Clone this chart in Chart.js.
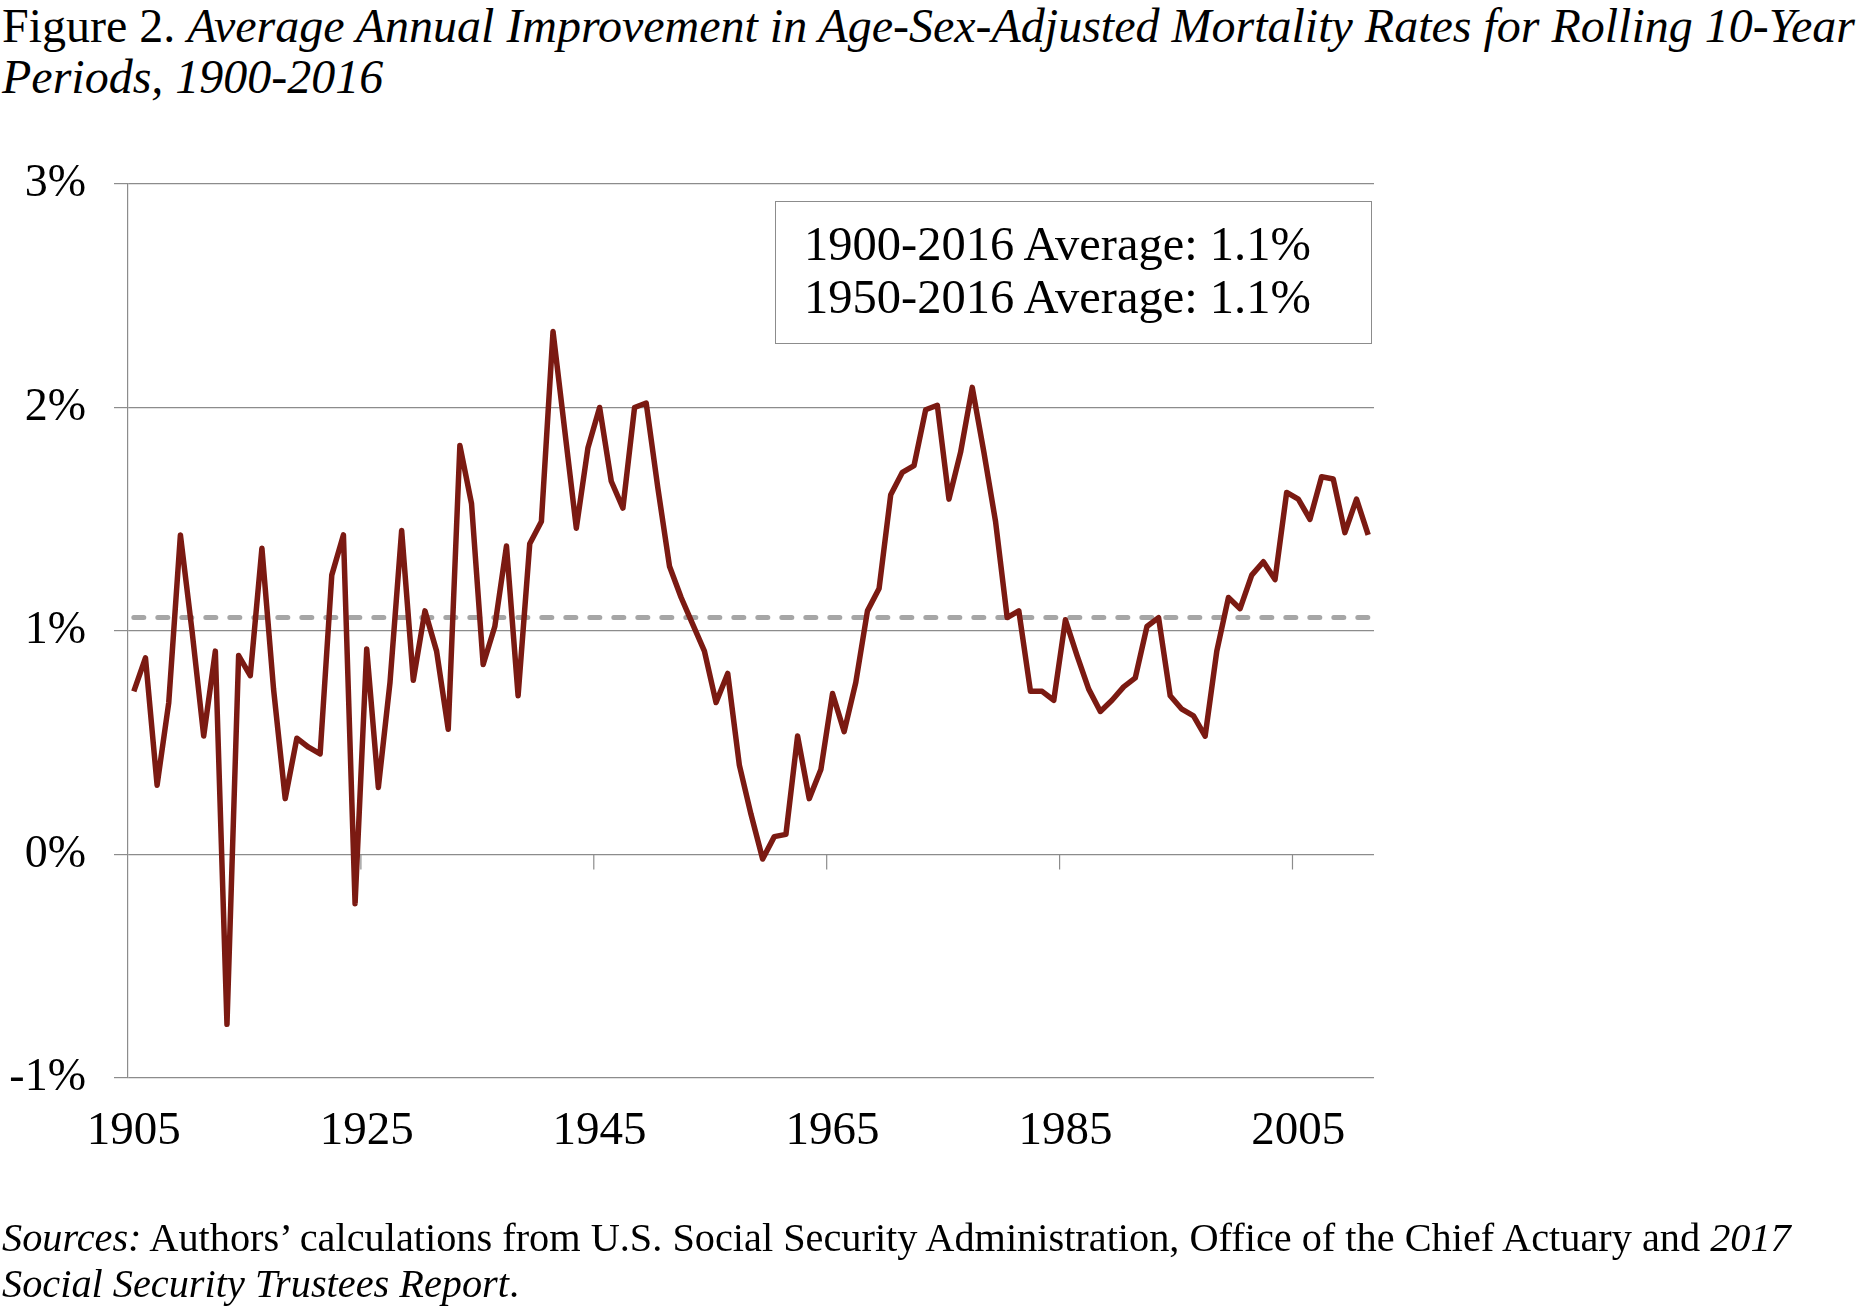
<!DOCTYPE html>
<html lang="en">
<head>
<meta charset="UTF-8">
<title>Figure 2</title>
<script src="https://cdn.jsdelivr.net/npm/chart.js"></script>
<style>
    html, body { margin: 0; padding: 0; background: #fff; }
    body { width: 1876px; height: 1310px; position: relative; overflow: hidden; font-family: "Liberation Serif", "Times New Roman", serif; color: #000; }
    .title { position: absolute; left: 2px; top: 0; font-size: 48px; line-height: 51px; white-space: nowrap; }
    .sources { position: absolute; left: 2px; top: 1215px; font-size: 40.3px; line-height: 46px; white-space: nowrap; }
    .chart-box { position: absolute; left: 0; top: 0; width: 1876px; height: 1310px; }
    .avg-box { position: absolute; left: 775px; top: 201px; width: 567px; height: 126px; border: 1.5px solid #8c8c8c; padding: 15px 0 0 28px; font-size: 48.5px; line-height: 53px; background: #fff; white-space: nowrap; }
</style>
</head>
<body>
    <div class="title">Figure 2. <i>Average Annual Improvement in Age-Sex-Adjusted Mortality Rates for Rolling 10-Year</i><br><i>Periods, 1900-2016</i></div>

    <div class="chart-box"><canvas id="mortalityChart"></canvas></div>

    <div class="avg-box">1900-2016 Average: 1.1%<br>1950-2016 Average: 1.1%</div>

    <div class="sources"><i>Sources:</i> Authors’ calculations from U.S. Social Security Administration, Office of the Chief Actuary and <i>2017</i><br><i>Social Security Trustees Report</i>.</div>

<script>
    // yillar: 10 yillik donemlerin orta yili (1905-2011)
    const years = Array.from({ length: 107 }, (_, i) => String(1905 + i));

    // ortalama yillik iyilesme (%)
    const improvement = [
        0.73, 0.88, 0.31, 0.68, 1.43, 1.00, 0.53, 0.91, -0.76, 0.89,   // 1905-1914
        0.80, 1.37, 0.74, 0.25, 0.52, 0.48, 0.45, 1.25, 1.43, -0.22,   // 1915-1924
        0.92, 0.30, 0.77, 1.45, 0.78, 1.09, 0.91, 0.56, 1.83, 1.57,    // 1925-1934
        0.85, 1.02, 1.38, 0.71, 1.39, 1.49, 2.34, 1.90, 1.46, 1.82,    // 1935-1944
        2.00, 1.67, 1.55, 2.00, 2.02, 1.64, 1.29, 1.15, 1.03, 0.91,    // 1945-1954
        0.68, 0.81, 0.40, 0.18, -0.02, 0.08, 0.09, 0.53, 0.25, 0.38,   // 1955-1964
        0.72, 0.55, 0.77, 1.09, 1.19, 1.61, 1.71, 1.74, 1.99, 2.01,    // 1965-1974
        1.59, 1.80, 2.09, 1.80, 1.49, 1.06, 1.09, 0.73, 0.73, 0.69,    // 1975-1984
        1.05, 0.89, 0.74, 0.64, 0.69, 0.75, 0.79, 1.02, 1.06, 0.71,    // 1985-1994
        0.65, 0.62, 0.53, 0.91, 1.15, 1.10, 1.25, 1.31, 1.23, 1.62,    // 1995-2004
        1.59, 1.50, 1.69, 1.68, 1.44, 1.59, 1.43                        // 2005-2011
    ];

    // 1900-2016 ortalamasi (kesikli cizgi)
    const averageLevel = 1.06;

    // etiket gosterilen yillar
    const labelYears = ['1905', '1925', '1945', '1965', '1985', '2005'];

    const yTicks = [-1, 0, 1, 2, 3];

    const gridGray = '#8c8c8c';

    // 0% cizgisinin altina kucuk tik isaretleri
    const zeroTicks = {
        id: 'zeroTicks',
        beforeDatasetsDraw(chart) {
            const x = chart.scales.x;
            const y = chart.scales.y;
            const ctx = chart.ctx;
            const half = x.width / years.length / 2;
            const y0 = y.getPixelForValue(0);
            ctx.save();
            ctx.strokeStyle = gridGray;
            ctx.lineWidth = 1.2;
            labelYears.forEach(lbl => {
                const idx = years.indexOf(lbl);
                if (idx <= 0) return;
                const px = x.getPixelForValue(idx) - half;
                ctx.beginPath();
                ctx.moveTo(px, y0);
                ctx.lineTo(px, y0 + 15);
                ctx.stroke();
            });
            ctx.restore();
        }
    };

    const ctx = document.getElementById('mortalityChart').getContext('2d');
    new Chart(ctx, {
        type: 'line',
        data: {
            labels: years,
            datasets: [
                {
                    label: 'Improvement',
                    data: improvement,
                    borderColor: '#7b1a12',
                    borderWidth: 5.5,
                    borderJoinStyle: 'round',
                    pointRadius: 0,
                    tension: 0
                },
                {
                    label: 'Average',
                    data: [
                        { x: years[0], y: averageLevel },
                        { x: years[years.length - 1], y: averageLevel }
                    ],
                    borderColor: '#a6a6a6',
                    borderWidth: 5,
                    borderDash: [10, 14],
                    borderCapStyle: 'round',
                    pointRadius: 0
                }
            ]
        },
        options: {
            responsive: true,
            maintainAspectRatio: false,
            animation: false,
            layout: { padding: { left: 0, top: 184, right: 502, bottom: 152 } },
            plugins: {
                legend: { display: false },
                tooltip: { enabled: false }
            },
            scales: {
                x: {
                    type: 'category',
                    offset: true,
                    afterFit: s => { s.height = 80; },
                    grid: { display: false, drawTicks: false },
                    border: { display: false },
                    ticks: {
                        autoSkip: false,
                        maxRotation: 0,
                        padding: 25,
                        color: '#000',
                        font: { family: '"Liberation Serif", serif', size: 47 },
                        callback: function (val) {
                            const lbl = years[val];
                            return labelYears.includes(lbl) ? lbl : '';
                        }
                    }
                },
                y: {
                    min: -1,
                    max: 3,
                    afterFit: s => { s.width = 128; },
                    afterBuildTicks: s => { s.ticks = yTicks.map(v => ({ value: v })); },
                    grid: { color: gridGray, lineWidth: 1.2, tickLength: 14 },
                    border: { display: true, color: gridGray, width: 1.2 },
                    ticks: {
                        padding: 28,
                        color: '#000',
                        font: { family: '"Liberation Serif", serif', size: 46 },
                        callback: v => v + '%'
                    }
                }
            }
        },
        plugins: [zeroTicks]
    });
</script>
</body>
</html>
